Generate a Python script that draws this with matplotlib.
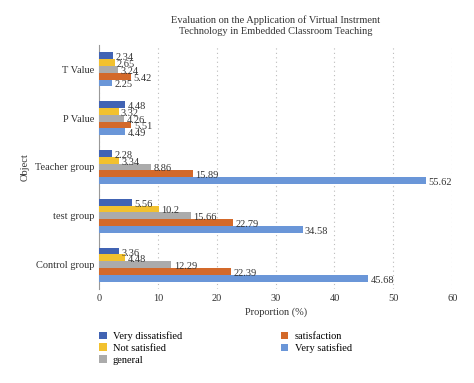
import numpy as np
import matplotlib
matplotlib.use("Agg")
import matplotlib.pyplot as plt

plt.rcParams["font.family"] = ["Liberation Serif", "DejaVu Serif"]

# ---- Data (bottom to top on the y axis) ----
groups = ["Control group", "test group", "Teacher group", "P Value", "T Value"]
series = ["Very dissatisfied", "Not satisfied", "general", "satisfaction", "Very satisfied"]
very_dissatisfied = [3.36, 5.56, 2.28, 4.48, 2.34]
not_satisfied = [4.48, 10.2, 3.34, 3.32, 2.65]
general = [12.29, 15.66, 8.86, 4.26, 3.24]
satisfaction = [22.39, 22.79, 15.89, 5.51, 5.42]
very_satisfied = [45.68, 34.58, 55.62, 4.49, 2.25]
values = [very_dissatisfied, not_satisfied, general, satisfaction, very_satisfied]
colors = ["#4163B3", "#F2C12E", "#ABABAB", "#D3692A", "#6A96D8"]

fig = plt.figure(figsize=(4.74, 3.83), dpi=100)
ax = fig.add_axes([0.209, 0.245, 0.745, 0.638])

y = np.arange(len(groups))
h = 0.14
for i, (name, vals, c) in enumerate(zip(series, values, colors)):
    pos = y + (2 - i) * h
    ax.barh(pos, vals, height=h, color=c, label=name, zorder=3)
    for p, v in zip(pos, vals):
        ax.text(v + 0.4, p - 0.04, f"{v:g}", fontsize=7.5, va="center",
                ha="left", color="#333333", zorder=4)

ax.set_xlim(0, 60)
ax.set_ylim(-0.5, len(groups) - 0.5)
ax.set_xticks(range(0, 61, 10))
ax.set_yticks(y)
ax.set_yticklabels(groups)
ax.tick_params(length=0, labelsize=7.5, colors="#333333")
ax.grid(axis="x", linestyle=(0, (1, 3)), color="#BBBBBB", linewidth=0.8, zorder=0)
for s in ["top", "right", "bottom"]:
    ax.spines[s].set_visible(False)
ax.spines["left"].set_color("#999999")

ax.set_xlabel("Proportion (%)", fontsize=7.5, color="#333333", labelpad=3)
ax.set_ylabel("Object", fontsize=7.5, color="#333333")
ax.set_title("Evaluation on the Application of Virtual Instrment\n"
             "Technology in Embedded Classroom Teaching",
             fontsize=7.5, color="#333333", pad=8)

handles, labels = ax.get_legend_handles_labels()
fig.legend(handles, labels, ncol=2, loc="upper left",
           bbox_to_anchor=(0.19, 0.16), frameon=False, fontsize=7.5,
           handlelength=0.7, handleheight=0.7, columnspacing=9.5,
           labelspacing=0.25, handletextpad=0.6)

plt.savefig("out.png", dpi=100)
